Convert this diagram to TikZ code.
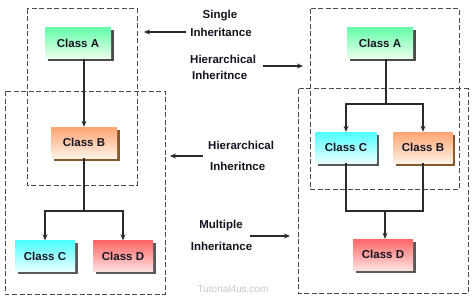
\documentclass[tikz,border=0pt]{standalone}
\usepackage{fontspec}
\setmainfont{Liberation Sans}
\usetikzlibrary{arrows.meta,shadows}
\definecolor{dashc}{HTML}{4A4A4A}
\definecolor{linec}{HTML}{2A2A2A}
\definecolor{txtc}{HTML}{141420}
\tikzset{
  cls/.style={rectangle, minimum height=31pt, inner sep=0pt, text=txtc,
    font=\fontsize{11.5}{13}\selectfont\bfseries,
    drop shadow={shadow xshift=2.5pt, shadow yshift=-2.5pt, fill=#1, opacity=1}},
  clsA/.style={cls=black!70, shade, top color=green!55!cyan!60!white, bottom color=green!8!white},
  clsB/.style={cls=brown!70!black, shade, top color=orange!70!red!55!white, bottom color=orange!10!white},
  clsC/.style={cls=black!65, shade, top color=cyan!70!white, bottom color=cyan!8!white},
  clsD/.style={cls=black!65, shade, top color=red!60!white, bottom color=red!12!white},
  grp/.style={draw=dashc, line width=1pt, dash pattern=on 5pt off 2.5pt},
  conn/.style={draw=linec, line width=1.1pt},
  arr/.style={conn, -{Stealth[length=6pt,width=5pt]}},
  lbl/.style={text=txtc, inner sep=0pt, font=\fontsize{11.5}{13}\selectfont\bfseries},
}
\begin{document}
\begin{tikzpicture}[x=1pt,y=-1pt]
\useasboundingbox (0,0) rectangle (474,305);
% group boxes
\draw[grp] (27,9) rectangle (137,185);
\draw[grp] (5,91) rectangle (165,294);
\draw[grp] (310,9) rectangle (459,189);
\draw[grp] (298,89) rectangle (468,293);
% left classes
\node[clsA, minimum width=66pt] (lA) at (78,43) {Class A};
\node[clsB, minimum width=66pt] (lB) at (84,142.5) {Class B};
\node[clsC, minimum width=60pt] (lC) at (45,256) {Class C};
\node[clsD, minimum width=60pt] (lD) at (123,256) {Class D};
% right classes
\node[clsA, minimum width=66pt] (rA) at (380,43) {Class A};
\node[clsC, minimum width=61pt] (rC) at (346,147.5) {Class C};
\node[clsB, minimum width=59pt] (rB) at (423,147.5) {Class B};
\node[clsD, minimum width=60pt] (rD) at (383,254.5) {Class D};
% left connectors
\draw[arr] (lB.north |- lA.south) -- (lB.north);
\coordinate (lsplit) at (84,211);
\draw[conn] (lB.south) -- (lsplit);
\draw[arr] (lsplit) -| (lC.north);
\draw[arr] (lsplit) -| (lD.north);
% right connectors
\coordinate (rsplit) at (386,104);
\draw[conn] (rA.south -| rsplit) -- (rsplit);
\draw[arr] (rsplit) -| (rC.north);
\draw[arr] (rsplit) -| (rB.north);
\coordinate (rjoin) at (385,211);
\draw[conn] (rC.south) |- (rjoin);
\draw[conn] (rB.south) |- (rjoin);
\draw[arr] (rjoin) -- (rjoin |- rD.north);
% labels
\node[lbl] (s1) at (220,16) {Single};
\node[lbl] (s2) at (221,32) {Inheritance};
\node[lbl, anchor=west] (h1) at (190,59) {Hierarchical};
\node[lbl, anchor=west] (h2) at (192,75) {Inheritnce};
\node[lbl, anchor=west] (h3) at (208,145) {Hierarchical};
\node[lbl, anchor=west] (h4) at (210,166) {Inheritnce};
\node[lbl] (m1) at (221,226) {Multiple};
\node[lbl] (m2) at (221.5,246) {Inheritance};
\node[text=black!22, inner sep=0pt, font=\fontsize{10}{12}\selectfont] (wm) at (233,289) {Tutorial4us.com};
% label arrows
\coordinate (e1) at (144,32);
\coordinate (a2s) at (263,66);
\coordinate (e2) at (303,66);
\coordinate (a3s) at (203,156);
\coordinate (e3) at (170,156);
\coordinate (a4s) at (250,236);
\coordinate (e4) at (290,236);
\draw[arr] ([xshift=-4pt]s2.west) -- (e1);
\draw[arr] (a2s) -- (e2);
\draw[arr] (a3s) -- (e3);
\draw[arr] (a4s) -- (e4);
\end{tikzpicture}
\end{document}
